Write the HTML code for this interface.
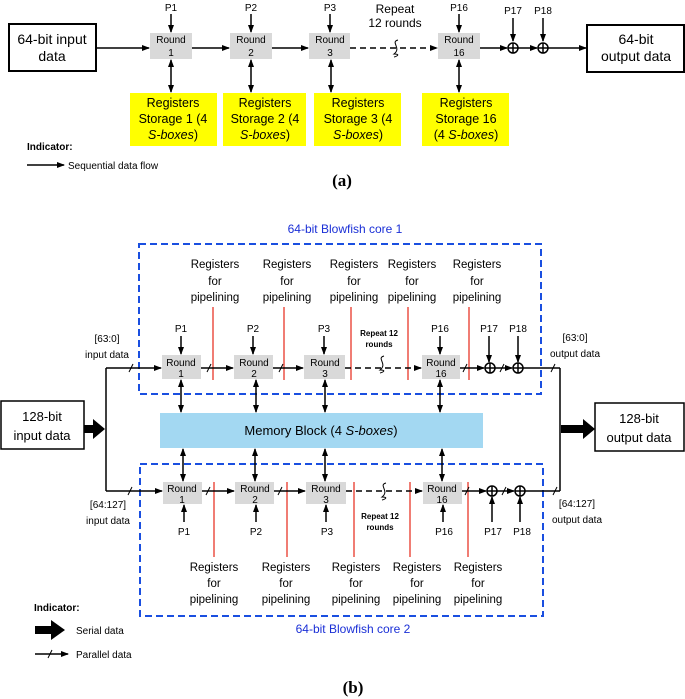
<!DOCTYPE html>
<html><head><style>
body{margin:0;background:#fff}
svg{display:block;font-family:"Liberation Sans",sans-serif}
</style></head><body>
<svg width="685" height="699" viewBox="0 0 685 699" xmlns="http://www.w3.org/2000/svg">
<defs>
<marker id="a" markerWidth="8" markerHeight="6" refX="7" refY="3" orient="auto-start-reverse" markerUnits="userSpaceOnUse"><path d="M0,0L8,3L0,6z" fill="#000"/></marker>
</defs>
<!-- PART A -->
<g stroke="#000" stroke-width="1.5" fill="none">
<rect x="9" y="24" width="87" height="47" stroke-width="2"/>
<rect x="587" y="25" width="97" height="47" stroke-width="2"/>
</g>
<g font-size="14" text-anchor="middle">
<text x="52" y="44">64-bit input</text><text x="52" y="61">data</text>
<text x="636" y="44">64-bit</text><text x="636" y="61">output data</text>
</g>
<g fill="#d9d9d9"><rect x="150" y="33" width="42" height="26"/><rect x="230" y="33" width="42" height="26"/><rect x="309" y="33" width="41" height="26"/><rect x="438" y="33" width="42" height="26"/></g>
<g font-size="10" text-anchor="middle">
<text x="171" y="43">Round</text><text x="171" y="56">1</text>
<text x="251" y="43">Round</text><text x="251" y="56">2</text>
<text x="330" y="43">Round</text><text x="330" y="56">3</text>
<text x="459" y="43">Round</text><text x="459" y="56">16</text>
<text x="171" y="11">P1</text><text x="251" y="11">P2</text><text x="330" y="11">P3</text><text x="459" y="11">P16</text>
<text x="513" y="14">P17</text><text x="543" y="14">P18</text>
</g>
<g font-size="12" text-anchor="middle"><text x="395" y="13">Repeat</text><text x="395" y="27">12 rounds</text></g>
<g stroke="#000" stroke-width="1.5" fill="none">
<line x1="96" y1="48" x2="149" y2="48" marker-end="url(#a)"/>
<line x1="192" y1="48" x2="229" y2="48" marker-end="url(#a)"/>
<line x1="272" y1="48" x2="308" y2="48" marker-end="url(#a)"/>
<line x1="350" y1="48" x2="437" y2="48" stroke-dasharray="6,4" marker-end="url(#a)"/>
<line x1="480" y1="48" x2="507" y2="48" marker-end="url(#a)"/>
<line x1="518" y1="48" x2="537" y2="48" marker-end="url(#a)"/>
<line x1="548" y1="48" x2="586" y2="48" marker-end="url(#a)"/>
<line x1="171" y1="14" x2="171" y2="32" marker-end="url(#a)"/>
<line x1="251" y1="14" x2="251" y2="32" marker-end="url(#a)"/>
<line x1="330" y1="14" x2="330" y2="32" marker-end="url(#a)"/>
<line x1="459" y1="14" x2="459" y2="32" marker-end="url(#a)"/>
<line x1="513" y1="18" x2="513" y2="41" marker-end="url(#a)"/>
<line x1="543" y1="18" x2="543" y2="41" marker-end="url(#a)"/>
<line x1="171" y1="60" x2="171" y2="92" marker-start="url(#a)" marker-end="url(#a)"/>
<line x1="251" y1="60" x2="251" y2="92" marker-start="url(#a)" marker-end="url(#a)"/>
<line x1="331" y1="60" x2="331" y2="92" marker-start="url(#a)" marker-end="url(#a)"/>
<line x1="459" y1="60" x2="459" y2="92" marker-start="url(#a)" marker-end="url(#a)"/>
<circle cx="513" cy="48" r="5" fill="#fff"/><path d="M508,48h10M513,43v10"/>
<circle cx="543" cy="48" r="5" fill="#fff"/><path d="M538,48h10M543,43v10"/>
<path d="M398,40c-8,2 4,8 -4,14c6,0 4,2 0,3" stroke-width="1"/>
</g>
<g fill="#ffff00"><rect x="130" y="93" width="87" height="53"/><rect x="223" y="93" width="83" height="53"/><rect x="314" y="93" width="87" height="53"/><rect x="422" y="93" width="87" height="53"/></g>
<g font-size="12.5" text-anchor="middle">
<text x="173" y="107">Registers</text><text x="173" y="123">Storage 1 (4</text><text x="173" y="139"><tspan font-style="italic">S-boxes</tspan>)</text>
<text x="265" y="107">Registers</text><text x="265" y="123">Storage 2 (4</text><text x="265" y="139"><tspan font-style="italic">S-boxes</tspan>)</text>
<text x="358" y="107">Registers</text><text x="358" y="123">Storage 3 (4</text><text x="358" y="139"><tspan font-style="italic">S-boxes</tspan>)</text>
<text x="466" y="107">Registers</text><text x="466" y="123">Storage 16</text><text x="466" y="139">(4 <tspan font-style="italic">S-boxes</tspan>)</text>
</g>
<text x="27" y="150" font-size="10" font-weight="bold">Indicator:</text>
<line x1="27" y1="165" x2="64" y2="165" stroke="#000" stroke-width="1.5" marker-end="url(#a)"/>
<text x="68" y="169" font-size="10">Sequential data flow</text>
<text x="342" y="186" font-size="17" font-weight="bold" text-anchor="middle" font-family="Liberation Serif,serif">(a)</text>

<!-- PART B -->
<text x="345" y="233" font-size="12" fill="#1a2fd6" text-anchor="middle">64-bit Blowfish core 1</text>
<text x="353" y="633" font-size="12" fill="#1a2fd6" text-anchor="middle">64-bit Blowfish core 2</text>
<g stroke="#1a4fe0" stroke-width="2" fill="none" stroke-dasharray="7,4">
<rect x="139" y="244" width="402" height="150"/>
<rect x="140" y="464" width="403" height="152"/>
</g>
<rect x="160" y="413" width="323" height="35" fill="#a3d8f2"/>
<text x="321" y="435" font-size="13" text-anchor="middle">Memory Block (4 <tspan font-style="italic">S-boxes</tspan>)</text>
<g stroke="#000" stroke-width="1.5" fill="none">
<rect x="1" y="401" width="83" height="48"/>
<rect x="595" y="403" width="89" height="48"/>
</g>
<g font-size="13" text-anchor="middle">
<text x="42" y="421">128-bit</text><text x="42" y="440">input data</text>
<text x="639" y="423">128-bit</text><text x="639" y="442">output data</text>
</g>
<path d="M84,425h9v-6l12,10l-12,10v-6h-9z" fill="#000"/>
<path d="M561,425h22v-6l12,10l-12,10v-6h-22z" fill="#000"/>
<g stroke="#000" stroke-width="1.5" fill="none">
<path d="M106,368V491"/><path d="M560,368V491"/>
</g>
<!-- rounds top/bottom -->
<g fill="#d9d9d9">
<rect x="162" y="355" width="39" height="24"/><rect x="234" y="355" width="39" height="24"/><rect x="304" y="355" width="41" height="24"/><rect x="422" y="355" width="38" height="24"/>
<rect x="163" y="482" width="39" height="22"/><rect x="235" y="482" width="39" height="22"/><rect x="306" y="482" width="40" height="22"/><rect x="423" y="482" width="39" height="22"/>
</g>
<g font-size="10" text-anchor="middle">
<text x="181" y="366">Round</text><text x="181" y="377">1</text>
<text x="254" y="366">Round</text><text x="254" y="377">2</text>
<text x="325" y="366">Round</text><text x="325" y="377">3</text>
<text x="441" y="366">Round</text><text x="441" y="377">16</text>
<text x="182" y="492">Round</text><text x="182" y="503">1</text>
<text x="255" y="492">Round</text><text x="255" y="503">2</text>
<text x="326" y="492">Round</text><text x="326" y="503">3</text>
<text x="442" y="492">Round</text><text x="442" y="503">16</text>
<text x="181" y="332">P1</text><text x="253" y="332">P2</text><text x="324" y="332">P3</text><text x="440" y="332">P16</text><text x="489" y="332">P17</text><text x="518" y="332">P18</text>
<text x="184" y="535">P1</text><text x="256" y="535">P2</text><text x="327" y="535">P3</text><text x="444" y="535">P16</text><text x="493" y="535">P17</text><text x="522" y="535">P18</text>
<text x="107" y="342">[63:0]</text><text x="107" y="358">input data</text>
<text x="575" y="341">[63:0]</text><text x="575" y="357">output data</text>
<text x="108" y="508">[64:127]</text><text x="108" y="524">input data</text>
<text x="577" y="507">[64:127]</text><text x="577" y="523">output data</text>
</g>
<g font-size="8" font-weight="bold" text-anchor="middle">
<text x="379" y="336">Repeat 12</text><text x="379" y="347">rounds</text>
<text x="380" y="519">Repeat 12</text><text x="380" y="530">rounds</text>
</g>
<g font-size="11.5" text-anchor="middle">
<text x="215" y="268">Registers</text><text x="215" y="285">for</text><text x="215" y="301">pipelining</text>
<text x="287" y="268">Registers</text><text x="287" y="285">for</text><text x="287" y="301">pipelining</text>
<text x="354" y="268">Registers</text><text x="354" y="285">for</text><text x="354" y="301">pipelining</text>
<text x="412" y="268">Registers</text><text x="412" y="285">for</text><text x="412" y="301">pipelining</text>
<text x="477" y="268">Registers</text><text x="477" y="285">for</text><text x="477" y="301">pipelining</text>
<text x="214" y="571">Registers</text><text x="214" y="587">for</text><text x="214" y="603">pipelining</text>
<text x="286" y="571">Registers</text><text x="286" y="587">for</text><text x="286" y="603">pipelining</text>
<text x="356" y="571">Registers</text><text x="356" y="587">for</text><text x="356" y="603">pipelining</text>
<text x="417" y="571">Registers</text><text x="417" y="587">for</text><text x="417" y="603">pipelining</text>
<text x="478" y="571">Registers</text><text x="478" y="587">for</text><text x="478" y="603">pipelining</text>
</g>
<g stroke="#e8372a" stroke-width="1.3">
<line x1="213" y1="307" x2="213" y2="380"/><line x1="284" y1="307" x2="284" y2="380"/><line x1="351" y1="307" x2="351" y2="380"/><line x1="408" y1="307" x2="408" y2="380"/><line x1="469" y1="307" x2="469" y2="380"/>
<line x1="214" y1="482" x2="214" y2="557"/><line x1="287" y1="482" x2="287" y2="557"/><line x1="354" y1="482" x2="354" y2="557"/><line x1="410" y1="482" x2="410" y2="557"/><line x1="468" y1="482" x2="468" y2="557"/>
</g>
<g stroke="#000" stroke-width="1.5" fill="none">
<!-- top main line -->
<line x1="106" y1="368" x2="161" y2="368" marker-end="url(#a)"/>
<line x1="201" y1="368" x2="233" y2="368" marker-end="url(#a)"/>
<line x1="273" y1="368" x2="303" y2="368" marker-end="url(#a)"/>
<line x1="345" y1="368" x2="421" y2="368" stroke-dasharray="6,4" marker-end="url(#a)"/>
<line x1="460" y1="368" x2="484" y2="368" marker-end="url(#a)"/>
<line x1="495" y1="368" x2="512" y2="368" marker-end="url(#a)"/>
<line x1="523" y1="368" x2="560" y2="368"/>
<circle cx="490" cy="368" r="5" fill="#fff"/><path d="M485,368h10M490,363v10"/>
<circle cx="518" cy="368" r="5" fill="#fff"/><path d="M513,368h10M518,363v10"/>
<line x1="181" y1="336" x2="181" y2="354" marker-end="url(#a)"/>
<line x1="253" y1="336" x2="253" y2="354" marker-end="url(#a)"/>
<line x1="324" y1="336" x2="324" y2="354" marker-end="url(#a)"/>
<line x1="440" y1="336" x2="440" y2="354" marker-end="url(#a)"/>
<line x1="489" y1="336" x2="489" y2="362" marker-end="url(#a)"/>
<line x1="518" y1="336" x2="518" y2="362" marker-end="url(#a)"/>
<line x1="181" y1="380" x2="181" y2="412" marker-start="url(#a)" marker-end="url(#a)"/>
<line x1="256" y1="380" x2="256" y2="412" marker-start="url(#a)" marker-end="url(#a)"/>
<line x1="325" y1="380" x2="325" y2="412" marker-start="url(#a)" marker-end="url(#a)"/>
<line x1="440" y1="380" x2="440" y2="412" marker-start="url(#a)" marker-end="url(#a)"/>
<path d="M384,356c-8,2 4,8 -4,14c6,0 4,2 0,3" stroke-width="1"/>
<!-- slashes top -->
<path d="M129,372l4,-8M207,372l4,-8M279,372l4,-8M463,372l4,-8M500,372l4,-8M551,372l4,-8" stroke-width="1"/>
<!-- bottom main line -->
<line x1="106" y1="491" x2="162" y2="491" marker-end="url(#a)"/>
<line x1="202" y1="491" x2="234" y2="491" marker-end="url(#a)"/>
<line x1="274" y1="491" x2="305" y2="491" marker-end="url(#a)"/>
<line x1="346" y1="491" x2="422" y2="491" stroke-dasharray="6,4" marker-end="url(#a)"/>
<line x1="462" y1="491" x2="486" y2="491" marker-end="url(#a)"/>
<line x1="497" y1="491" x2="514" y2="491" marker-end="url(#a)"/>
<line x1="525" y1="491" x2="560" y2="491"/>
<circle cx="492" cy="491" r="5" fill="#fff"/><path d="M487,491h10M492,486v10"/>
<circle cx="520" cy="491" r="5" fill="#fff"/><path d="M515,491h10M520,486v10"/>
<line x1="184" y1="522" x2="184" y2="505" marker-end="url(#a)"/>
<line x1="256" y1="522" x2="256" y2="505" marker-end="url(#a)"/>
<line x1="326" y1="522" x2="326" y2="505" marker-end="url(#a)"/>
<line x1="443" y1="522" x2="443" y2="505" marker-end="url(#a)"/>
<line x1="492" y1="522" x2="492" y2="497" marker-end="url(#a)"/>
<line x1="520" y1="522" x2="520" y2="497" marker-end="url(#a)"/>
<line x1="183" y1="449" x2="183" y2="481" marker-start="url(#a)" marker-end="url(#a)"/>
<line x1="255" y1="449" x2="255" y2="481" marker-start="url(#a)" marker-end="url(#a)"/>
<line x1="325" y1="449" x2="325" y2="481" marker-start="url(#a)" marker-end="url(#a)"/>
<line x1="442" y1="449" x2="442" y2="481" marker-start="url(#a)" marker-end="url(#a)"/>
<path d="M386,483c-8,2 4,8 -4,14c6,0 4,2 0,3" stroke-width="1"/>
<path d="M128,495l4,-8M206,495l4,-8M278,495l4,-8M465,495l4,-8M502,495l4,-8M553,495l4,-8" stroke-width="1"/>
</g>
<text x="34" y="611" font-size="10" font-weight="bold">Indicator:</text>
<path d="M35,626h16v-6l14,10l-14,10v-6h-16z" fill="#000"/>
<text x="76" y="634" font-size="10">Serial data</text>
<line x1="35" y1="654" x2="68" y2="654" stroke="#000" stroke-width="1.5" marker-end="url(#a)"/>
<path d="M48,658l4,-8" stroke="#000" stroke-width="1"/>
<text x="76" y="658" font-size="10">Parallel data</text>
<text x="353" y="693" font-size="17" font-weight="bold" text-anchor="middle" font-family="Liberation Serif,serif">(b)</text>
</svg>
</body></html>
